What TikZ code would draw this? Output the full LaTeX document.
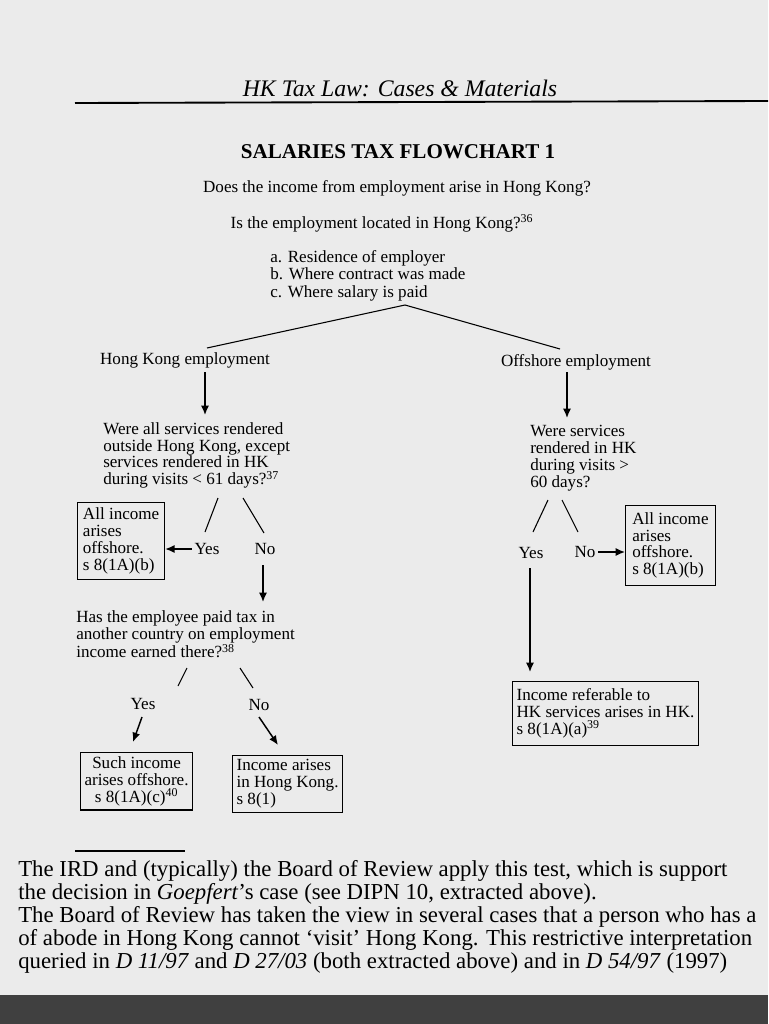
\documentclass[tikz,border=0pt]{standalone}
\usepackage{fontspec}
\setmainfont{Liberation Serif}
\usetikzlibrary{arrows.meta}
\begin{document}
\begin{tikzpicture}[x=0.75pt,y=-0.75pt,
  fs/.style={font=\fontsize{12.8}{12.7}\selectfont},
  txt/.style={inner sep=0pt,fs,align=left},
  res/.style={draw,line width=0.9pt,inner sep=3pt,fs,align=left},
  arr/.style={-{Latex[length=7pt,width=6pt]},line width=1.1pt},
  br/.style={line width=0.8pt},
  body/.style={inner sep=0pt,anchor=base west,font=\fontsize{17.1}{18}\selectfont}]
\useasboundingbox (0,0) rectangle (768,1024);
\fill[black!8] (0,0) rectangle (768,1024);
\fill[black!75] (0,995) rectangle (768,1024);
\node[inner sep=0pt,font=\fontsize{17.8}{20}\selectfont\itshape] (hdr) at (400,88) {HK Tax Law: Cases \& Materials};
\draw[line width=1.4pt] (75,103) -- (768,101);
\node[inner sep=0pt,font=\fontsize{15.8}{18}\selectfont\bfseries] (title) at (398,152) {SALARIES TAX FLOWCHART 1};
\node[txt] (q0) at (397,188) {Does the income from employment arise in Hong Kong?};
\node[txt] (q1) at (382,223) {Is the employment located in Hong Kong?\textsuperscript{36}};
\node[txt,anchor=north west,font=\fontsize{12.8}{13.2}\selectfont] (list) at (270,250) {a. Residence of employer\\b. Where contract was made\\c. Where salary is paid};
\coordinate (apex) at (405,305);
\node[txt] (hk) at (185,360) {Hong Kong employment};
\node[txt] (off) at (576,362) {Offshore employment};
\draw[br] (apex) -- (207,348);
\draw[br] (apex) -- (560,349);
% left branch
\node[txt,anchor=north west] (qa) at (103,422) {Were all services rendered\\outside Hong Kong, except\\services rendered in HK\\during visits \textless{} 61 days?\textsuperscript{37}};
\draw[arr] (205,372) -- (205,415);
\node[res,anchor=north west,inner sep=4pt] (boxA) at (77,502) {All income\\arises\\offshore.\\s 8(1A)(b)};
\node[txt] (yesA) at (207,549) {Yes};
\node[txt] (noA) at (265,549) {No};
\draw[br] (218,498) -- (205,532);
\draw[br] (243,498) -- (264,533);
\draw[arr] (yesA.west) ++(-2pt,0) -- (boxA.east |- yesA.west);
\draw[arr] (263,565) -- (263,602);
\node[txt,anchor=north west] (qb) at (76,610) {Has the employee paid tax in\\another country on employment\\income earned there?\textsuperscript{38}};
\draw[br] (187,668) -- (178,686);
\draw[br] (240,668) -- (253,688);
\node[txt] (yesB) at (143,704) {Yes};
\node[txt] (noB) at (259,705) {No};
\draw[arr] (142,717) -- (133,742);
\draw[arr] (259,717) -- (278,745);
\node[res,anchor=north west,align=center,minimum width=81pt,minimum height=40pt] (boxB) at (80,752) {Such income\\arises offshore.\\s 8(1A)(c)\textsuperscript{40}};
\node[res,anchor=north west,minimum width=81pt,minimum height=41pt] (boxC) at (232,755) {Income arises\\in Hong Kong.\\s 8(1)};
% right branch
\draw[arr] (567,372) -- (567,418);
\node[txt,anchor=north west] (qc) at (530,425) {Were services\\rendered in HK\\during visits \textgreater\\60 days?};
\draw[br] (548,500) -- (533,532);
\draw[br] (562,500) -- (578,532);
\node[txt] (yesC) at (531,553) {Yes};
\node[txt] (noC) at (585,552) {No};
\node[res,anchor=north west,inner sep=5pt] (boxD) at (625,505) {All income\\arises\\offshore.\\s 8(1A)(b)};
\draw[arr] (noC.east) ++(2pt,0) -- (boxD.west |- noC.east);
\draw[arr] (530,568) -- (530,672);
\node[res,anchor=north west,minimum width=138pt,minimum height=48pt] (boxE) at (512,681) {Income referable to\\HK services arises in HK.\\s 8(1A)(a)\textsuperscript{39}};
% footnote rule and body text
\draw[line width=0.8pt] (75,851) -- (185,851);
\node[body] (l1) at (18,876) {The IRD and (typically) the Board of Review apply this test, which is support};
\node[body] (l2) at (18,899) {the decision in \textit{Goepfert}'s case (see DIPN 10, extracted above).};
\node[body] (l3) at (18,922) {The Board of Review has taken the view in several cases that a person who has a};
\node[body] (l4) at (18,945) {of abode in Hong Kong cannot `visit' Hong Kong. This restrictive interpretation};
\node[body] (l5) at (18,968) {queried in \textit{D 11/97} and \textit{D 27/03} (both extracted above) and in \textit{D 54/97} (1997)};
\end{tikzpicture}
\end{document}
